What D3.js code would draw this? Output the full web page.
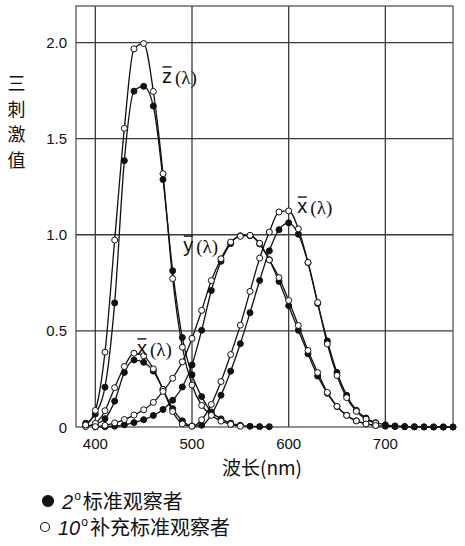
<!DOCTYPE html>
<html>
<head>
<meta charset="utf-8">
<script src="https://cdn.jsdelivr.net/npm/d3@7"></script>
<style>
  html, body { margin: 0; padding: 0; background: #fff; }
  svg { display: block; }
  text { font-family: "Liberation Sans", Arial, sans-serif; fill: #111; }
</style>
</head>
<body>
<div id="chart"></div>
<script>
// wavelengths, 10 nm steps
const wavelengths = d3.range(380, 771, 10);

// CIE 1931 2 deg observer
const x2 = [0.0014,0.0042,0.0143,0.0435,0.1344,0.2839,0.3483,0.3362,0.2908,0.1954,0.0956,0.0320,0.0049,0.0093,0.0633,0.1655,0.2904,0.4334,0.5945,0.7621,0.9163,1.0263,1.0622,1.0026,0.8544,0.6424,0.4479,0.2835,0.1649,0.0874,0.0468,0.0227,0.0114,0.0058,0.0029,0.0014,0.0007,0.0003,0.0002,0.0001];
const y2 = [0.0000,0.0001,0.0004,0.0012,0.0040,0.0116,0.0230,0.0380,0.0600,0.0910,0.1390,0.2080,0.3230,0.5030,0.7100,0.8620,0.9540,0.9950,0.9950,0.9520,0.8700,0.7570,0.6310,0.5030,0.3810,0.2650,0.1750,0.1070,0.0610,0.0320,0.0170,0.0082,0.0041,0.0021,0.0010,0.0005,0.0002,0.0001,0.0001,0.0000];
const z2 = [0.0065,0.0201,0.0679,0.2074,0.6456,1.3856,1.7471,1.7721,1.6692,1.2876,0.8130,0.4652,0.2720,0.1582,0.0782,0.0422,0.0203,0.0087,0.0039,0.0021,0.0017];

// CIE 1964 10 deg supplementary observer
const x10 = [0.0002,0.0024,0.0191,0.0847,0.2045,0.3147,0.3837,0.3707,0.3023,0.1956,0.0805,0.0162,0.0038,0.0375,0.1177,0.2365,0.3768,0.5298,0.7052,0.8787,1.0142,1.1185,1.1240,1.0305,0.8563,0.6475,0.4316,0.2683,0.1526,0.0813,0.0409,0.0199];
const y10 = [0.0000,0.0003,0.0020,0.0088,0.0214,0.0387,0.0621,0.0895,0.1282,0.1852,0.2536,0.3391,0.4608,0.6067,0.7618,0.8752,0.9620,0.9918,0.9973,0.9556,0.8689,0.7774,0.6583,0.5280,0.3981,0.2835,0.1798,0.1076,0.0603,0.0318,0.0159,0.0077];
const z10 = [0.0007,0.0105,0.0860,0.3894,0.9725,1.5535,1.9673,1.9948,1.7454,1.3176,0.7721,0.4153,0.2185,0.1120,0.0607,0.0305,0.0137,0.0040];

const xTicks = [400, 500, 600, 700];
const yTicks = [0, 0.5, 1.0, 1.5, 2.0];
const yTickLabels = ["0", "0.5", "1.0", "1.5", "2.0"];
const yTitle = ["三", "刺", "激", "值"];
const xTitle = "波长(nm)";

// series: values start at 380 nm, first shown point given by 'from'
const series = [
  { name: "x", vals: x2,  from: 390, filled: true },
  { name: "y", vals: y2,  from: 400, filled: true },
  { name: "z", vals: z2,  from: 390, filled: true },
  { name: "x", vals: x10, from: 390, filled: false },
  { name: "y", vals: y10, from: 400, filled: false },
  { name: "z", vals: z10, from: 390, filled: false }
];

// label anchors (wavelength, value) for the curve names
const curveLabels = [
  { letter: "z", at: [469, 1.79] },
  { letter: "x", at: [609, 1.113] },
  { letter: "y", at: [491, 0.91] },
  { letter: "x", at: [443, 0.375] }
];

const W = 465, H = 546;
const margin = { left: 76, top: 6, right: 12, bottom: 119 };

const svg = d3.select("#chart").append("svg")
  .attr("width", W).attr("height", H);

const x = d3.scaleLinear().domain([380, 770]).range([margin.left, W - margin.right]);
const y = d3.scaleLinear().domain([0, 2.19]).range([H - margin.bottom, margin.top]);

// grid
const grid = svg.append("g").attr("stroke", "#3a3a3a").attr("stroke-width", 1.3);
grid.selectAll(".vg").data(xTicks).enter().append("line")
  .attr("x1", d => x(d)).attr("x2", d => x(d))
  .attr("y1", y.range()[0]).attr("y2", y.range()[1]);
grid.selectAll(".hg").data(yTicks.filter(d => d > 0)).enter().append("line")
  .attr("x1", x.range()[0]).attr("x2", x.range()[1])
  .attr("y1", d => y(d)).attr("y2", d => y(d));
grid.append("rect")
  .attr("x", x.range()[0]).attr("y", y.range()[1])
  .attr("width", x.range()[1] - x.range()[0])
  .attr("height", y.range()[0] - y.range()[1])
  .attr("fill", "none").attr("stroke", "#555");

// tick labels
svg.selectAll(".yl").data(yTicks).enter().append("text")
  .attr("x", x.range()[0] - 9).attr("y", d => y(d) + 5.5)
  .attr("text-anchor", "end").style("font-size", "15px")
  .text((d, i) => yTickLabels[i]);
svg.selectAll(".xl").data(xTicks).enter().append("text")
  .attr("x", d => x(d)).attr("y", y(0) + 22)
  .attr("text-anchor", "middle").style("font-size", "15px")
  .text(d => d);

// axis titles
svg.append("text")
  .attr("x", 262).attr("y", y(0) + 48)
  .attr("text-anchor", "middle")
  .style("font-family", "'Noto Sans CJK SC', sans-serif")
  .style("font-size", "19px")
  .text(xTitle);
svg.selectAll(".yt").data(yTitle).enter().append("text")
  .attr("x", 16.5).attr("y", (d, i) => 90 + i * 25.5)
  .attr("text-anchor", "middle")
  .style("font-family", "'Noto Sans CJK SC', sans-serif")
  .style("font-size", "18px")
  .text(d => d);

// curves
const line = d3.line()
  .x(d => x(d[0])).y(d => y(d[1]))
  .curve(d3.curveMonotoneX);

series.forEach(s => {
  const pts = s.vals.map((v, i) => [wavelengths[i], v]).filter(p => p[0] >= s.from);
  svg.append("path").datum(pts)
    .attr("d", line)
    .attr("fill", "none").attr("stroke", "#111").attr("stroke-width", 1.3);
  s.pts = pts;
});
series.forEach(s => {
  svg.append("g").selectAll("circle").data(s.pts).enter().append("circle")
    .attr("cx", d => x(d[0])).attr("cy", d => y(d[1]))
    .attr("r", 3)
    .attr("fill", s.filled ? "#111" : "#fff")
    .attr("stroke", "#111").attr("stroke-width", 1);
});

// curve labels with overbar
curveLabels.forEach(c => {
  const lx = x(c.at[0]), ly = y(c.at[1]);
  const g = svg.append("g");
  const t = g.append("text").attr("x", lx).attr("y", ly)
    .style("font-size", "20px").text(c.letter);
  const bb = t.node().getBBox();
  g.append("line")
    .attr("x1", bb.x + 0.5).attr("x2", bb.x + bb.width - 0.5)
    .attr("y1", ly - 16).attr("y2", ly - 16)
    .attr("stroke", "#111").attr("stroke-width", 1.4);
  g.append("text").attr("x", bb.x + bb.width + 3).attr("y", ly + 1)
    .style("font-family", "'Liberation Serif', 'DejaVu Serif', serif")
    .style("font-size", "19px").text("(λ)");
});

// legend
const legend = [
  { filled: true,  num: "2",  text: "标准观察者" },
  { filled: false, num: "10", text: "补充标准观察者" }
];
legend.forEach((d, i) => {
  const cy = 501 + i * 26;
  svg.append("circle").attr("cx", d.filled ? 48 : 45).attr("cy", cy)
    .attr("r", d.filled ? 5.5 : 4.5)
    .attr("fill", d.filled ? "#111" : "#fff")
    .attr("stroke", "#111").attr("stroke-width", 1.1);
  const t = svg.append("text").attr("x", d.filled ? 62 : 58).attr("y", cy + 7.5)
    .style("font-size", "20px");
  t.append("tspan").style("font-style", "italic").text(d.num);
  t.append("tspan").attr("dy", -9).attr("dx", 1).style("font-size", "12px").text("o");
  t.append("tspan").attr("dy", 9).attr("dx", 2)
    .style("font-family", "'Noto Sans CJK SC', sans-serif").text(d.text);
});
</script>
</body>
</html>
